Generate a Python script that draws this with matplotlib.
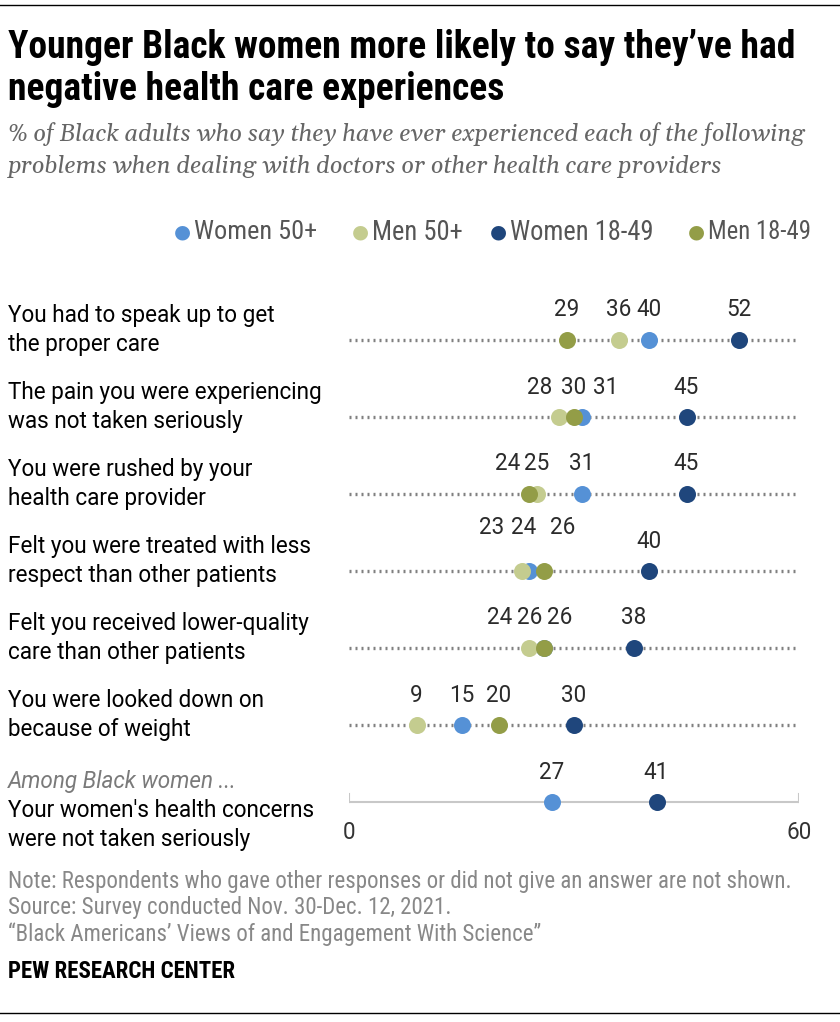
import matplotlib
matplotlib.use("Agg")
import matplotlib.pyplot as plt
import matplotlib.transforms as mtransforms
from matplotlib import font_manager
from matplotlib.font_manager import FontProperties

# ---- data ----
items = [
    "You had to speak up to get\nthe proper care",
    "The pain you were experiencing\nwas not taken seriously",
    "You were rushed by your\nhealth care provider",
    "Felt you were treated with less\nrespect than other patients",
    "Felt you received lower-quality\ncare than other patients",
    "You were looked down on\nbecause of weight",
    "Your women's health concerns\nwere not taken seriously",
]
series = ["Women 50+", "Men 50+", "Women 18-49", "Men 18-49"]
women_50 = [40, 31, 31, 24, 26, 15, 27]
men_50 = [36, 28, 25, 23, 24, 9, None]
women_18_49 = [52, 45, 45, 40, 38, 30, 41]
men_18_49 = [29, 30, 24, 26, 26, 20, None]
axis_ticks = [0, 60]

title_lines = ["Younger Black women more likely to say they\u2019ve had",
               "negative health care experiences"]
subtitle_lines = ["% of Black adults who say they have ever experienced each of the following",
                  "problems when dealing with doctors or other health care providers"]
notes = ["Note: Respondents who gave other responses or did not give an answer are not shown.",
         "Source: Survey conducted Nov. 30-Dec. 12, 2021.",
         "\u201cBlack Americans\u2019 Views of and Engagement With Science\u201d"]

COLORS = {"Women 50+": "#5591d6", "Men 50+": "#c4cc8f",
          "Women 18-49": "#1f467c", "Men 18-49": "#939d47"}
VALUES = {"Women 50+": women_50, "Men 50+": men_50,
          "Women 18-49": women_18_49, "Men 18-49": men_18_49}
DRAW_ORDER = ["Women 50+", "Men 50+", "Men 18-49", "Women 18-49"]

# label nudges in pixels (dx, dy) where labels would collide
NUDGE = {(1, "Men 50+"): (-19, 0), (1, "Women 50+"): (24, 0),
         (2, "Men 18-49"): (-21, 0),
         (3, "Men 50+"): (-30, 13), (3, "Women 50+"): (-5, 13), (3, "Men 18-49"): (19, 13),
         (4, "Men 50+"): (-29, 0), (4, "Women 50+"): (-14, 0), (4, "Men 18-49"): (16, 0)}

_ttf = font_manager.fontManager.ttflist
_fonts = {(f.name, f.style) for f in _ttf}


def pick(cands, style="normal"):
    for c in cands:
        if (c, style) in _fonts:
            return c
    return "DejaVu Sans"


def static_font(cands, style="normal"):
    """Regular-weight, non-variable font file (variable files default to Thin)."""
    for c in cands:
        for f in _ttf:
            if (f.name == c and f.style == style and f.weight == 400
                    and "[" not in f.fname and "wght" not in f.fname.lower()):
                return f.fname
    return None


COND = pick(["Roboto Condensed", "Archivo Narrow", "Fira Sans Condensed",
             "IBM Plex Sans Condensed", "PT Sans Narrow", "Liberation Sans Narrow"])
SERIF = pick(["Gelasio", "Georgia", "Liberation Serif"], "italic")
_body_file = static_font(["Libre Franklin", "Public Sans", "Archivo", "Roboto"])
_body_it_file = static_font(["Libre Franklin", "Public Sans", "Archivo", "Roboto"], "italic")


def body(size, italic=False):
    fname = _body_it_file if italic else _body_file
    if fname:
        return FontProperties(fname=fname, size=size)
    return FontProperties(family="Roboto", style="italic" if italic else "normal", size=size)


W, H = 840, 1022
fig = plt.figure(figsize=(W / 100, H / 100), dpi=100)
renderer = fig.canvas.get_renderer()


def fx(px):
    return px / W


def fy(py):
    return 1 - py / H


def fit(t, width_px):
    w = t.get_window_extent(renderer).width
    fs = t.get_fontsize() * width_px / w
    t.set_fontsize(fs)
    return fs


# axes: x 0..60 spans px 349..799; rows every 77 px from y=340
row0, step = 340, 77
top_px, bot_px = 300, 850
ax = fig.add_axes([fx(349), fy(bot_px), fx(799) - fx(349), (bot_px - top_px) / H])
ax.set_xlim(0, 60)
ax.set_ylim((bot_px - row0) / step, -(row0 - top_px) / step)
ax.axis("off")

# body font size from the first row label
probe = fig.text(0, 0, items[0].split("\n")[0], fontproperties=body(14))
fs_body = fit(probe, 269)
probe.remove()

n = len(items)
for i in range(n):
    if i < n - 1:
        ax.plot([0, 60], [i, i], color="#808080", lw=2.4, ls=(0, (0.6, 1.2)),
                zorder=1)
    else:
        ax.plot([0, 60], [i, i], color="#c8c8c8", lw=1.5, zorder=1)
        for t in axis_ticks:
            ax.plot([t, t], [i, i - 0.11], color="#c8c8c8", lw=1.5, zorder=1)
            ax.annotate(str(t), (t, i), xytext=(0, -22), textcoords="offset points",
                        ha="center", va="center", fontproperties=body(fs_body),
                        color="#333333")

for k, s in enumerate(DRAW_ORDER):
    vals = VALUES[s]
    for i, v in enumerate(vals):
        if v is None:
            continue
        ax.scatter([v], [i], s=150, color=COLORS[s], zorder=3 + k, linewidths=0)
        dx, dy = NUDGE.get((i, s), (0, 0))
        ax.annotate(str(v), (v, i), xytext=(dx * 0.72, (30 + dy) * 0.72),
                    textcoords="offset points", ha="center", va="center",
                    fontproperties=body(fs_body), color="#2b2b2b")

# row labels
trans = mtransforms.blended_transform_factory(fig.transFigure, ax.transData)
for i, lab in enumerate(items):
    off = 10 if i < n - 1 else -23
    ax.text(fx(8), i, lab,
            transform=mtransforms.offset_copy(trans, fig=fig, y=off * 0.72, units="points"),
            ha="left", va="center", fontproperties=body(fs_body), color="#000000",
            linespacing=1.36)
ax.text(fx(8), n - 1, "Among Black women ...",
        transform=mtransforms.offset_copy(trans, fig=fig, y=21 * 0.72, units="points"),
        ha="left", va="center", fontproperties=body(fs_body, italic=True), color="#7a7a7a")

# legend
leg_x = [182, 360, 498, 696]
leg_w = [123, 91, 144, 103]
for s, x, wl in zip(series, leg_x, leg_w):
    fig.text(fx(x), fy(232), "\u25CF", color=COLORS[s], fontsize=14, ha="center",
             va="center", family="DejaVu Sans")
    t = fig.text(fx(x + 12), fy(232), s, color="#555555", fontsize=15, ha="left",
                 va="center", family=COND)
    fit(t, wl)

# title block
t1 = fig.text(fx(8), fy(48), title_lines[0], fontsize=24, weight="bold", family=COND,
              va="center", ha="left", color="#000000")
fs_t = fit(t1, 789)
fig.text(fx(8), fy(89), title_lines[1], fontsize=fs_t, weight="bold", family=COND,
         va="center", ha="left", color="#000000")
s1 = fig.text(fx(8), fy(134), subtitle_lines[0], fontsize=15, style="italic", family=SERIF,
              va="center", ha="left", color="#666666")
fs_s = fit(s1, 799)
fig.text(fx(8), fy(166), subtitle_lines[1], fontsize=fs_s, style="italic", family=SERIF,
         va="center", ha="left", color="#666666")

# footer
n1 = fig.text(fx(8), fy(881), notes[0], fontsize=13, family=COND, color="#888888",
              va="center", ha="left")
fs_n = fit(n1, 779)
for j, t in enumerate(notes[1:], start=1):
    fig.text(fx(8), fy(881 + 26.8 * j), t, fontsize=fs_n, family=COND, color="#888888",
             va="center", ha="left")
p = fig.text(fx(8), fy(971), "PEW RESEARCH CENTER", fontsize=13, weight="bold",
             family=COND, color="#000000", va="center", ha="left")
fit(p, 226)

fig.add_artist(plt.Line2D([0, 1], [fy(5), fy(5)], color="#000000", lw=1))
fig.add_artist(plt.Line2D([0, 1], [fy(1013), fy(1013)], color="#000000", lw=1))

fig.savefig("out.png", dpi=100)
